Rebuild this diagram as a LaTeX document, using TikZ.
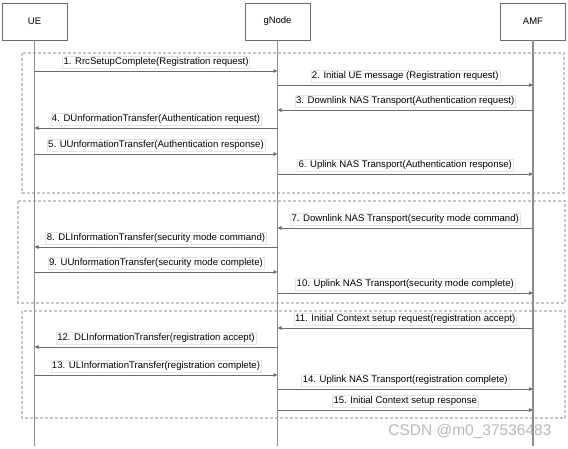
\documentclass[tikz,border=0pt]{standalone}
\usepackage{fontspec}
\setmainfont{Liberation Sans}
\usetikzlibrary{arrows.meta}
\begin{document}
\begin{tikzpicture}[x=1pt,y=-1pt,
  actor/.style={draw=gray!85!black, fill=white, line width=0.9, minimum width=65, minimum height=37, inner sep=0, font=\fontsize{9.5}{10}\selectfont},
  life/.style={draw=gray!90, line width=1.5},
  msg/.style={draw=gray!85!black, line width=0.9, -{Triangle[length=4,width=3.5]}},
  lbl/.style={fill=white, draw=gray!20, line width=0.4, inner sep=1.2, font=\fontsize{9.6}{10}\selectfont},
  grp/.style={draw=gray!45, dash pattern=on 3 off 2, line width=1.1}]
\useasboundingbox (0,0) rectangle (568,448);
\fill[white] (0,0) rectangle (568,448);
% groups
\draw[grp] (22,53) rectangle (564,193);
\draw[grp] (18,201) rectangle (565,303);
\draw[grp] (22,311) rectangle (565,418);
% actors
\node[actor] (ue) at (34.5,21.5) {UE};
\node[actor] (gnb) at (277.5,21.5) {gNode};
\node[actor] (amf) at (533,21.5) {AMF};
\coordinate (ueend) at (34.5,446);
\coordinate (gnbend) at (277.5,446);
\coordinate (amfend) at (533,446);
\draw[life] (ue) -- (ueend);
\draw[life] (gnb) -- (gnbend);
\draw[life] (amf) -- (amfend);
% messages
\foreach \y/\a/\b/\t in {
  71/ue/gnb/{1. RrcSetupComplete(Registration request)},
  85/gnb/amf/{2. Initial UE message (Registration request)},
  110/amf/gnb/{3. Downlink NAS Transport(Authentication request)},
  128/gnb/ue/{4. DUnformationTransfer(Authentication request)},
  154/ue/gnb/{5. UUnformationTransfer(Authentication response)},
  174/gnb/amf/{6. Uplink NAS Transport(Authentication response)},
  228/amf/gnb/{7. Downlink NAS Transport(security mode command)},
  247/gnb/ue/{8. DLInformationTransfer(security mode command)},
  272/ue/gnb/{9. UUnformationTransfer(security mode complete)},
  293/gnb/amf/{10. Uplink NAS Transport(security mode complete)},
  328/amf/gnb/{11. Initial Context setup request(registration accept)},
  347/gnb/ue/{12. DLInformationTransfer(registration accept)},
  375/ue/gnb/{13. ULInformationTransfer(registration complete)},
  389/gnb/amf/{14. Uplink NAS Transport(registration complete)},
  410/gnb/amf/{15. Initial Context setup response}}
{
  \draw[msg] (\a |- 0,\y) -- (\b |- 0,\y) node[midway, above=3pt, lbl] {\t};
}
\node[text=gray!55, font=\fontsize{15.5}{16}\selectfont, anchor=east] (wm) at (555,431) {CSDN @m0\_37536483};
\end{tikzpicture}
\end{document}
